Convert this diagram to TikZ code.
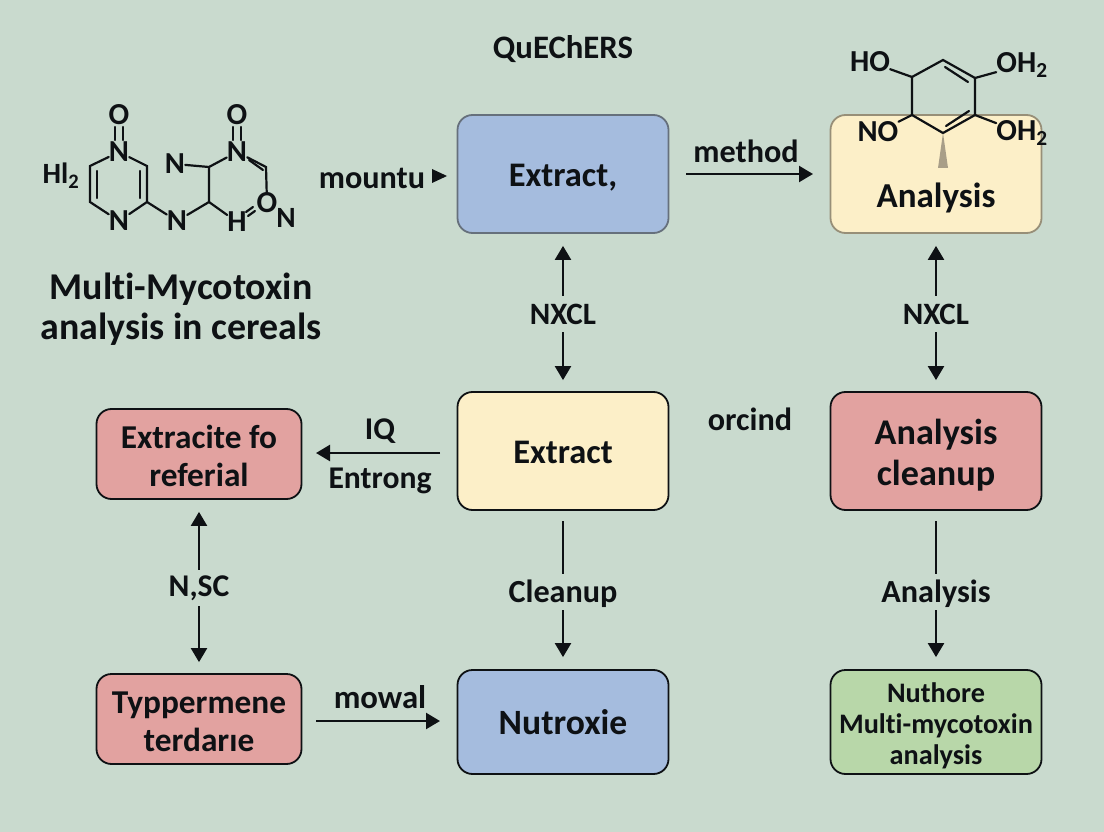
\documentclass[tikz,border=0pt]{standalone}
\usepackage{fontspec}
\setmainfont{Carlito}[Scale=1.13,Ligatures=NoCommon]
\usetikzlibrary{arrows.meta}
\definecolor{bgc}{HTML}{C9DACE}
\definecolor{bluef}{HTML}{A5BCDE}
\definecolor{yelf}{HTML}{FCEFC8}
\definecolor{redf}{HTML}{E2A2A0}
\definecolor{grnf}{HTML}{B8D7A9}
\definecolor{ink}{HTML}{0E1114}
\definecolor{greyedge}{HTML}{66707C}
\definecolor{wedge}{HTML}{A89E88}
\newcommand{\fs}[1]{\fontsize{#1}{#1}\selectfont\bfseries}
\newcommand{\dn}[2]{\raisebox{-#1pt}[\height][\depth]{#2}}
\tikzset{
 x=1pt,y=-1pt,
 boxstyle/.style={draw=ink,line width=1.8pt,rounded corners=15pt,inner sep=0pt,align=center,text=ink},
 bigbox/.style={boxstyle,minimum width=211pt,minimum height=118pt},
 smallbox/.style={boxstyle,minimum width=205pt,minimum height=90pt},
 lbl/.style={inner sep=0pt,text=ink,align=center,font=\fs{28.5}},
 atom/.style={inner sep=0pt,text=ink,font=\fs{27}},
 bond/.style={line width=2.2pt,draw=ink,line cap=round},
 arr/.style={line width=2.4pt,draw=ink,-{Triangle[length=14pt,width=16pt]}},
 plain/.style={line width=2.4pt,draw=ink},
}
\begin{document}
\begin{tikzpicture}
\fill[bgc] (0,0) rectangle (1104,832);
\useasboundingbox (0,0) rectangle (1104,832);
% boxes
\node[bigbox,fill=bluef,draw=greyedge,font=\fs{30.5}] (ex1) at (563,174) {\dn{4}{Extract,}};
\node[bigbox,fill=yelf,draw=yelf!60!black] (an) at (936,174) {};
\node[boxstyle,draw=none,fill=none,font=\fs{31}] (antext) at (936,198) {Analysis};
\node[bigbox,fill=yelf,font=\fs{30.5}] (ex2) at (563,451) {\dn{1}{Extract}};
\node[bigbox,fill=redf,font=\fs{32}] (cl) at (936,451) {\dn{4}{Analysis}\\[9pt]\dn{4}{cleanup}};
\node[smallbox,fill=redf,font=\fs{29.5}] (rf) at (199,454) {\dn{2}{Extracite fo}\\[8.5pt]\dn{2}{referial}};
\node[smallbox,fill=redf,font=\fs{29.5}] (ty) at (199,719) {\dn{3}{Typpermene}\\[8.5pt]\dn{3}{terdarıe}};
\node[bigbox,minimum height=104pt,fill=bluef,font=\fs{31.5}] (nu) at (563,722) {Nutroxie};
\node[boxstyle,minimum width=211pt,minimum height=104pt,fill=grnf,font=\fs{25}] (mm) at (936,722) {\dn{4}{Nuthore}\\[6pt]\dn{4}{Multi-mycotoxin}\\[6pt]\dn{4}{analysis}};
% labels
\node[lbl,font=\fs{29}] (qu) at (563,49) {QuEChERS};
\node[lbl,font=\fs{33.5}] (title) at (181,309) {Multi-Mycotoxin\\[7pt]analysis in cereals};
\node[lbl] (mo) at (372,178) {mountu};
\node[lbl] (me) at (746,151) {method};
\node[lbl,minimum height=36pt,font=\fs{27.5}] (n1) at (563,314) {NXCL};
\node[lbl,minimum height=36pt,font=\fs{27.5}] (n2) at (936,314) {NXCL};
\node[lbl] (or) at (750,419) {orcind};
\node[lbl,font=\fs{28}] (iq) at (380,431) {IQ};
\node[lbl,font=\fs{28}] (en) at (380,481) {Entrong};
\node[lbl,minimum height=36pt,font=\fs{28}] (ns) at (199,588) {N,SC};
\node[lbl,minimum height=36pt] (cu) at (563,592) {\dn{2}{Cleanup}};
\node[lbl,minimum height=36pt] (a2) at (936,592) {\dn{2}{Analysis}};
\node[lbl,font=\fs{29}] (mw) at (380,697) {mowal};
% connectors
\coordinate (moend) at (447,176);
\coordinate (mostart) at (432,176);
\draw[draw=none,fill=ink] (mostart) ++(0,-7) -- (moend) -- (432,183) -- cycle;
\coordinate (mest) at (686,174);
\draw[arr] (mest) -- (813,174);
\draw[arr,shorten >=12pt] (n1.north) -- (ex1.south);
\draw[arr,shorten >=11pt] (n1.south) -- (ex2.north);
\draw[arr,shorten >=12pt] (n2.north) -- (an.south);
\draw[arr,shorten >=11pt] (n2.south) -- (cl.north);
\coordinate (iqs) at (440,453);
\coordinate (iqe) at (316,453);
\draw[arr] (iqs) -- (iqe);
\draw[arr,shorten >=12pt] (ns.north) -- (rf.south);
\draw[arr,shorten >=11pt] (ns.south) -- (ty.north);
\draw[plain,shorten >=10pt] (cu.north) -- (ex2.south);
\draw[arr,shorten >=12pt] (cu.south) -- (nu.north);
\draw[plain,shorten >=10pt] (a2.north) -- (cl.south);
\draw[arr,shorten >=12pt] (a2.south) -- (mm.north);
\coordinate (mws) at (316,721);
\coordinate (mwe) at (440,721);
\draw[arr] (mws) -- (mwe);
% left molecule
\node[atom,font=\fs{26}] (hi) at (61,176) {Hl\textsubscript{2}};
\node[atom] (o1) at (119,115) {O};
\node[atom] (n1a) at (119,152) {N};
\node[atom] (n2a) at (119,221) {N};
\node[atom] (n3a) at (177,221) {N};
\node[atom] (n4a) at (175,164) {N};
\node[atom] (o2) at (237,115) {O};
\node[atom] (n5a) at (237,152) {N};
\node[atom] (ha) at (237,222) {H};
\node[atom,font=\fs{27}] (oa) at (267,203) {O};
\node[atom,font=\fs{26}] (na) at (286,218) {N};
\coordinate (a1) at (90,166);
\coordinate (a2c) at (90,202);
\coordinate (a3) at (147,166);
\coordinate (a4) at (147,202);
\coordinate (b1) at (209,167);
\coordinate (b2) at (209,202);
\coordinate (c1) at (266,167);
\draw[bond] (n1a) -- (a1) -- (a2c) -- (n2a) -- (a4) -- (a3) -- (n1a);
\draw[bond] (97,171) -- (97,198);
\draw[bond] (140,171) -- (140,198);
\draw[bond] (a4) -- (n3a);
\draw[bond] (n3a) -- (b2) -- (b1) -- (n4a);
\draw[bond] (b1) -- (n5a) -- (c1) -- (oa);
\draw[bond] (249,160) -- (263,170);
\draw[bond] (b2) -- (ha);
\draw[bond] (246,212) -- (253,207);
\draw[bond] (248,216) -- (255,211);
\draw[bond] (115,127) -- (115,140);
\draw[bond] (123,127) -- (123,140);
\draw[bond] (233,127) -- (233,140);
\draw[bond] (241,127) -- (241,140);
% right molecule
\node[atom,font=\fs{27}] (ho) at (870,62) {HO};
\node[atom,font=\fs{27}] (oh1) at (1022,65) {OH\textsubscript{2}};
\node[atom,font=\fs{27}] (no) at (878,132) {NO};
\node[atom,font=\fs{27}] (oh2) at (1022,133) {OH\textsubscript{2}};
\coordinate (r1) at (912,77);
\coordinate (r2) at (943,60);
\coordinate (r3) at (975,78);
\coordinate (r4) at (975,115);
\coordinate (r5) at (943,133);
\coordinate (r6) at (912,115);
\draw[bond] (r1) -- (r2) -- (r3) -- (r4) -- (r5) -- (r6) -- cycle;
\draw[bond] (945,67) -- (968,82);
\draw[bond] (969,111) -- (946,126);
\draw[bond] (r1) -- (ho);
\draw[bond] (r3) -- (oh1);
\draw[bond] (r6) -- (no);
\draw[bond] (r4) -- (oh2);
\fill[wedge] (943,133) -- (948,168) -- (938,168) -- cycle;
\end{tikzpicture}
\end{document}
